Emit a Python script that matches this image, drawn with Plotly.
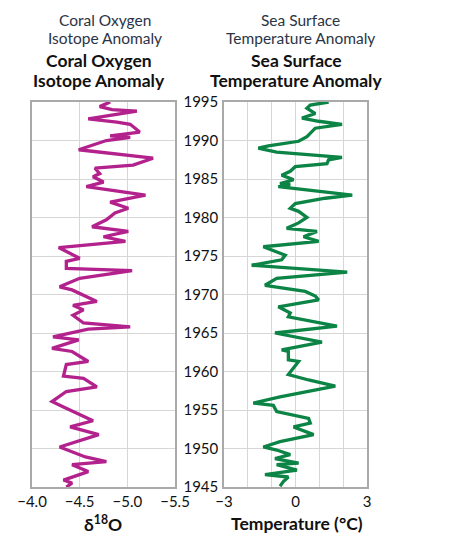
import plotly.graph_objects as go

# Coral oxygen isotope anomaly (delta 18O, per mil) vs year
coral_year = [1995.0, 1994.4, 1994.0, 1993.8, 1992.8, 1992.4, 1992.1, 1991.1, 1990.6, 1990.4, 1990.0,
              1988.8, 1987.7, 1986.8, 1986.4, 1985.7, 1985.3, 1984.6, 1984.0, 1983.6, 1982.9, 1982.0,
              1981.2, 1980.6, 1979.7, 1978.8, 1978.2, 1977.5, 1976.9, 1976.1, 1974.7, 1974.3, 1973.4,
              1973.1, 1972.1, 1971.0, 1970.6, 1969.1, 1968.6, 1968.0, 1967.3, 1966.3, 1965.8, 1965.5,
              1964.5, 1964.1, 1963.0, 1962.6, 1961.3, 1960.9, 1959.4, 1959.1, 1958.0, 1957.4, 1956.1,
              1955.4, 1953.6, 1952.8, 1951.8, 1950.2, 1948.9, 1948.3, 1947.9, 1947.0, 1945.9, 1945.5, 1945.0]
coral_d18o = [-4.82, -4.71, -4.84, -5.10, -4.59, -4.89, -5.03, -5.13, -4.82, -5.03, -4.78,
              -4.49, -5.27, -5.06, -4.66, -4.71, -4.64, -4.75, -4.57, -4.80, -5.19, -4.82,
              -5.01, -4.87, -4.78, -4.63, -5.01, -4.75, -4.98, -4.28, -4.50, -4.36, -4.36,
              -5.05, -4.50, -4.29, -4.42, -4.68, -4.43, -4.54, -4.43, -4.54, -5.03, -4.59,
              -4.22, -4.49, -4.21, -4.42, -4.59, -4.36, -4.33, -4.54, -4.68, -4.36, -4.21,
              -4.33, -4.64, -4.40, -4.70, -4.29, -4.56, -4.78, -4.42, -4.59, -4.33, -4.42, -4.36]

# Sea surface temperature anomaly (deg C) vs year
sst_year = [1995.0, 1994.6, 1994.2, 1993.5, 1992.9, 1992.5, 1992.1, 1991.6, 1990.5, 1989.9, 1989.3,
            1989.0, 1988.8, 1988.5, 1987.8, 1987.5, 1987.0, 1986.6, 1986.0, 1985.5, 1984.9, 1984.4,
            1984.3, 1984.0, 1982.9, 1982.5, 1981.8, 1981.2, 1980.8, 1980.0, 1979.3, 1978.6, 1978.2,
            1977.5, 1976.9, 1976.2, 1975.1, 1974.5, 1973.8, 1972.9, 1972.1, 1971.2, 1970.9, 1970.4,
            1969.8, 1969.3, 1968.4, 1967.6, 1967.1, 1965.9, 1965.0, 1963.8, 1962.8, 1962.6, 1961.5,
            1961.3, 1959.6, 1958.9, 1958.1, 1957.2, 1956.7, 1955.9, 1955.6, 1954.8, 1953.9, 1953.3,
            1952.8, 1951.8, 1950.9, 1950.2, 1949.8, 1949.2, 1948.7, 1948.1, 1947.9, 1947.2, 1946.6,
            1946.3, 1945.7, 1945.1]
sst_anom = [1.39, 0.62, 0.48, 0.83, 0.27, 0.97, 1.95, 0.83, 0.48, 0.13, -1.14,
            -1.56, -1.28, -0.79, 1.95, 1.39, 1.32, -0.01, -0.22, -0.58, -0.08, -0.65,
            -0.22, -0.72, 2.38, 1.25, -0.01, -0.22, 0.13, 0.48, 0.13, -0.37, 0.90,
            0.34, 0.97, -1.35, -0.43, -0.58, -1.84, 2.17, -0.79, -1.28, -0.65, 0.41,
            0.83, 0.97, -0.72, -0.22, -0.30, 1.74, -0.86, 1.11, -0.58, -0.30, -0.30,
            0.13, -0.30, 0.55, 1.67, 0.13, -0.65, -1.77, -0.93, -0.79, 0.55, 0.62,
            -0.08, 0.76, -0.65, -1.35, -0.79, -0.22, -0.86, 0.13, -0.79, 0.06, -1.28,
            -0.30, -0.51, -0.65]

coral_ticks = [-4.0, -4.5, -5.0, -5.5]
coral_ticktext = ["\u22124.0", "\u22124.5", "\u22125.0", "\u22125.5"]
sst_ticks = [-3, 0, 3]
sst_ticktext = ["\u22123", "0", "3"]
year_ticks = [1945, 1950, 1955, 1960, 1965, 1970, 1975, 1980, 1985, 1990, 1995]

FONT = "Lato"
W, H = 450, 534
axis_col = "#a9a9a9"
grid_col = "#d6d6d6"

fig = go.Figure()
fig.add_trace(go.Scatter(x=coral_d18o, y=coral_year, mode="lines",
                         line=dict(color="#b3218d", width=3.3), xaxis="x", yaxis="y"))
fig.add_trace(go.Scatter(x=sst_anom, y=sst_year, mode="lines",
                         line=dict(color="#0b8445", width=3.3), xaxis="x2", yaxis="y2"))

ydom = [1 - 487 / H, 1 - 102 / H]
common_x = dict(showline=True, mirror=True, linecolor=axis_col, linewidth=1.5,
                showgrid=True, gridcolor=grid_col, gridwidth=1, zeroline=False,
                automargin=False, ticks="",
                tickfont=dict(family=FONT, size=15, color="#111"))
fig.update_layout(
    width=W, height=H, margin=dict(l=0, r=0, t=0, b=0, autoexpand=False),
    paper_bgcolor="white", plot_bgcolor="white", showlegend=False,
    xaxis=dict(domain=[32 / W, 175 / W], range=[-4.0, -5.5], tickvals=coral_ticks,
               ticktext=coral_ticktext, anchor="y", **common_x),
    xaxis2=dict(domain=[224 / W, 367 / W], range=[-3, 3], tickvals=sst_ticks,
                ticktext=sst_ticktext, anchor="y2",
                minor=dict(dtick=1, tick0=0, showgrid=True, gridcolor=grid_col, gridwidth=1, ticks=""),
                **common_x),
    yaxis=dict(domain=ydom, range=[1945, 1995], tickvals=year_ticks, showticklabels=False,
               showline=True, mirror=True, linecolor=axis_col, linewidth=1.5, automargin=False,
               showgrid=True, gridcolor=grid_col, zeroline=False, anchor="x", ticks=""),
    yaxis2=dict(domain=ydom, range=[1945, 1995], tickvals=year_ticks, showticklabels=True,
                showline=True, mirror=True, linecolor=axis_col, linewidth=1.5, automargin=False,
                showgrid=True, gridcolor=grid_col, zeroline=False, anchor="x2",
                ticks="outside", ticklen=1, tickcolor="rgba(0,0,0,0)",
                tickfont=dict(family=FONT, size=15, color="#111")),
)

def ann(text, x, y, size, bold=False, color="#111"):
    fig.add_annotation(text=("<b>%s</b>" % text) if bold else text, x=x / W, y=1 - y / H,
                       xref="paper", yref="paper", showarrow=False, xanchor="center",
                       yanchor="middle", font=dict(family=FONT, size=size, color=color))

ann("Coral Oxygen", 105, 20, 15.5, color="#2b3445")
ann("Isotope Anomaly", 105, 38, 15.5, color="#2b3445")
ann("Coral Oxygen", 99, 60, 17.5, bold=True)
ann("Isotope Anomaly", 99, 80, 17.5, bold=True)
ann("Sea Surface", 300, 20, 15.5, color="#2b3445")
ann("Temperature Anomaly", 300, 38, 15.5, color="#2b3445")
ann("Sea Surface", 296, 60, 17.5, bold=True)
ann("Temperature Anomaly", 296, 80, 17.5, bold=True)
ann("\u03b4<sup>18</sup>O", 103, 523, 17.5, bold=True)
ann("Temperature (\u00b0C)", 297, 523, 17.5, bold=True)

fig.write_html("out.html")
